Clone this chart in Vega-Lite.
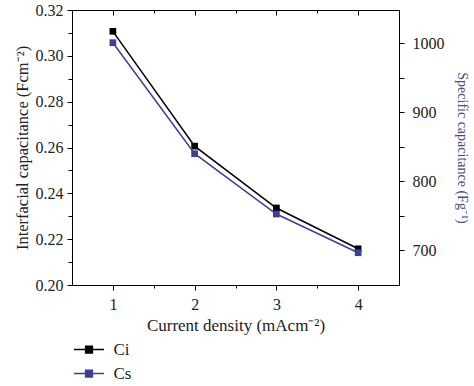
{
  "$schema": "https://vega.github.io/schema/vega-lite/v6.json",
  "width": 327,
  "height": 275,
  "autosize": {"type": "none"},
  "padding": {"left": 72, "top": 10, "right": 75, "bottom": 101},
  "background": "white",
  "config": {
    "view": {"stroke": "black", "strokeWidth": 1},
    "axis": {
      "domainColor": "black",
      "tickColor": "black",
      "labelFont": "Liberation Serif",
      "labelFontSize": 16,
      "labelColor": "#222222",
      "titleFont": "Liberation Serif",
      "titleFontSize": 16,
      "titleFontWeight": "normal",
      "titleColor": "#222222",
      "grid": false
    },
    "legend": {"labelFont": "Liberation Serif", "labelFontSize": 17, "labelColor": "#222222"}
  },
  "data": {
    "values": [
      {"x": 1, "series": "Ci", "value": 0.3107},
      {"x": 2, "series": "Ci", "value": 0.2606},
      {"x": 3, "series": "Ci", "value": 0.2336},
      {"x": 4, "series": "Ci", "value": 0.2158},
      {"x": 1, "series": "Cs", "value": 1000.7},
      {"x": 2, "series": "Cs", "value": 840},
      {"x": 3, "series": "Cs", "value": 752.7},
      {"x": 4, "series": "Cs", "value": 696.7}
    ]
  },
  "layer": [
    {
      "transform": [{"filter": "datum.series == 'Ci'"}],
      "mark": {"type": "line", "strokeWidth": 1.5, "point": {"shape": "square", "size": 45, "filled": true, "opacity": 1}},
      "encoding": {
        "x": {
          "field": "x", "type": "quantitative",
          "scale": {"domain": [0.5, 4.5], "nice": false, "zero": false},
          "axis": {
            "orient": "bottom",
            "title": "Current density (mAcm⁻²)",
            "titleFontSize": 17,
            "titlePadding": 5,
            "values": [1, 1.5, 2, 2.5, 3, 3.5, 4],
            "labelExpr": "datum.value % 1 == 0 ? format(datum.value, 'd') : ''",
            "tickSize": {"condition": {"test": "datum.value % 1 == 0", "value": 5}, "value": 3},
            "labelPadding": 6
          }
        },
        "y": {
          "field": "value", "type": "quantitative",
          "scale": {"domain": [0.2, 0.32], "nice": false, "zero": false},
          "axis": {
            "orient": "left",
            "title": "Interfacial capacitance (Fcm⁻²)",
            "titleFontSize": 16.5,
            "titlePadding": 5,
            "values": [0.2, 0.21, 0.22, 0.23, 0.24, 0.25, 0.26, 0.27, 0.28, 0.29, 0.3, 0.31, 0.32],
            "labelExpr": "round(datum.value * 100) % 2 == 0 ? format(datum.value, '.2f') : ''",
            "tickSize": {"condition": {"test": "round(datum.value * 100) % 2 == 0", "value": 5}, "value": 4},
            "labelPadding": 4
          }
        },
        "color": {
          "field": "series", "type": "nominal",
          "scale": {"domain": ["Ci", "Cs"], "range": ["#000000", "#3d3f99"]},
          "legend": {
            "title": null,
            "orient": "none",
            "legendX": 8.5,
            "legendY": 331,
            "symbolType": "M-2,0H2M-0.45,-0.45H0.45V0.45H-0.45Z",
            "symbolSize": 225,
            "symbolStrokeWidth": 1.5,
            "labelOffset": 16,
            "rowPadding": 6,
            "encode": {"symbols": {"update": {"fill": {"scale": "color", "field": "value"}}}}
          }
        }
      }
    },
    {
      "transform": [{"filter": "datum.series == 'Cs'"}],
      "mark": {"type": "line", "strokeWidth": 1.5, "point": {"shape": "square", "size": 45, "filled": true, "opacity": 1}},
      "encoding": {
        "x": {
          "field": "x", "type": "quantitative",
          "scale": {"domain": [0.5, 4.5], "nice": false, "zero": false},
          "axis": {
            "orient": "top",
            "title": null,
            "labels": false,
            "values": [1, 1.5, 2, 2.5, 3, 3.5, 4],
            "tickSize": {"condition": {"test": "datum.value % 1 == 0", "value": -5}, "value": -3}
          }
        },
        "y": {
          "field": "value", "type": "quantitative",
          "scale": {"domain": [650, 1048], "nice": false, "zero": false},
          "axis": {
            "orient": "right",
            "title": "Specific capacitance (Fg⁻¹)",
            "titleColor": "#4b4b85",
            "titleFontSize": 14,
            "titlePadding": 10,
            "values": [700, 750, 800, 850, 900, 950, 1000],
            "labelExpr": "datum.value % 100 == 0 ? format(datum.value, 'd') : ''",
            "tickSize": 5,
            "labelPadding": 8
          }
        },
        "color": {"field": "series", "type": "nominal"}
      }
    }
  ],
  "resolve": {"scale": {"y": "independent"}, "axis": {"x": "independent"}}
}
